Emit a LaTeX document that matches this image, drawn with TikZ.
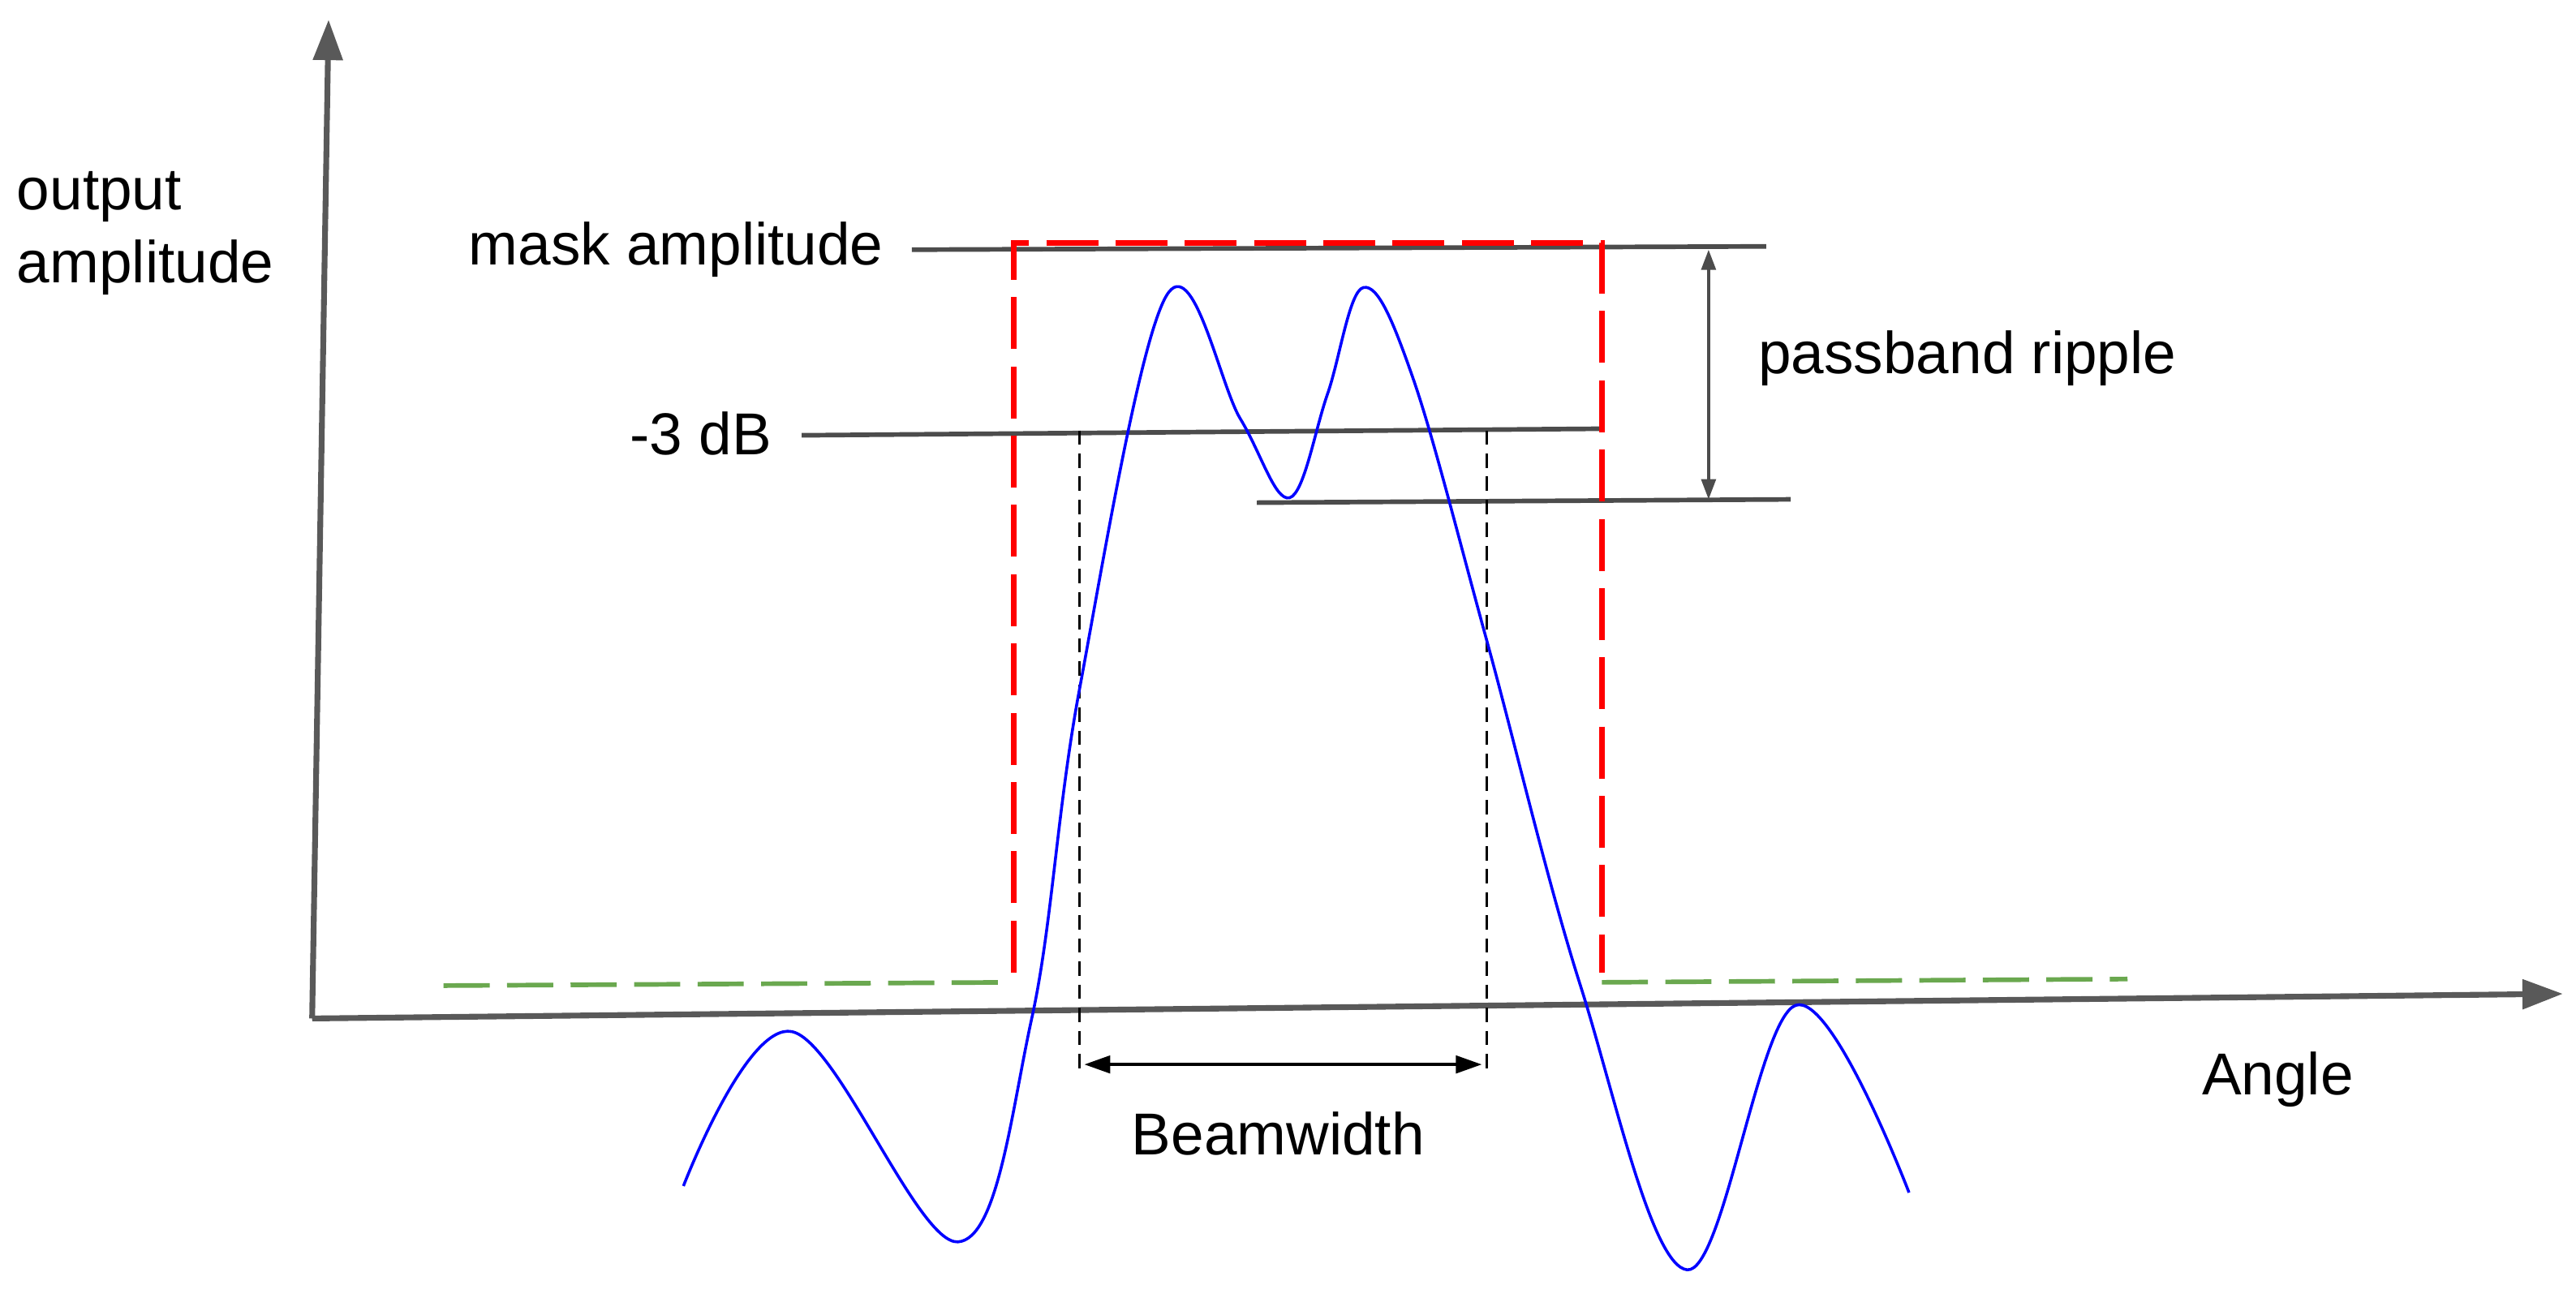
\documentclass[tikz,border=0pt]{standalone}
\usepackage{fontspec}
\setmainfont{Liberation Sans}
\usetikzlibrary{arrows.meta}
\begin{document}
\begin{tikzpicture}[x=0.02cm,y=-0.02cm,
  axis/.style={draw=black!65,line width=2pt,-{Triangle[length=14pt,width=10pt]}},
  lvl/.style={draw=black!70,line width=1.6pt},
  lbl/.style={font=\fontsize{20.5}{24}\selectfont,inner sep=0pt},
  dim/.style={draw=black!70,line width=1pt,{Triangle[length=7pt,width=5pt]}-{Triangle[length=7pt,width=5pt]}}]
\useasboundingbox (0,0) rectangle (1568,790);
% axes
\coordinate (o) at (190,620);
\coordinate (ytop) at (200,12);
\coordinate (xend) at (1560,605);
\draw[axis] (o) -- (ytop);
\draw[axis] (o) -- (xend);
% level lines
\coordinate (m1) at (555,152); \coordinate (m2) at (1075,150);
\coordinate (d1) at (488,265); \coordinate (d2) at (975,261);
\coordinate (r1) at (765,306); \coordinate (r2) at (1090,304);
\draw[lvl] (m1) -- (m2);
\draw[lvl] (d1) -- (d2);
\draw[lvl] (r1) -- (r2);
\coordinate (pa) at (1040,152); \coordinate (pb) at (1040,304);
\draw[dim] (pa) -- (pb);
% beamwidth
\coordinate (b1t) at (657,262); \coordinate (b1b) at (657,652);
\coordinate (b2t) at (905,262); \coordinate (b2b) at (905,652);
\draw[black,line width=0.8pt,dash pattern=on 5pt off 3pt] (b1t) -- (b1b);
\draw[black,line width=0.8pt,dash pattern=on 5pt off 3pt] (b2t) -- (b2b);
\coordinate (ba) at (660,648); \coordinate (bb) at (902,648);
\draw[draw=black,line width=1.2pt,{Triangle[length=9pt,width=6pt]}-{Triangle[length=9pt,width=6pt]}] (ba) -- (bb);
% green
\definecolor{gdash}{RGB}{106,168,79}
\draw[gdash,line width=1.6pt,dash pattern=on 16pt off 6pt] (270,600) -- (617,598);
\draw[gdash,line width=1.6pt,dash pattern=on 16pt off 6pt] (975,598) -- (1295,596);
% red mask
\draw[red,line width=2pt,dash pattern=on 18pt off 6pt] (617,592) -- (617,148) -- (975,148) -- (975,592);
% blue curve
\draw[blue,line width=1pt] plot[smooth,tension=0.6] coordinates {(416,722) (482,628) (583,756) (628,620) (657,420) (710,180) (755,255) (785,303) (808,240) (830,175) (860,230) (905,390) (962,600) (1027,773) (1093,612) (1162,726)};
% labels
\node[lbl,align=left,anchor=west] (ya) at (10,120) {output};
\node[lbl,align=left,anchor=west] (yb) at (10,163) {amplitude};
\node[lbl,anchor=east] (ml) at (538,152) {mask amplitude};
\node[lbl,anchor=east] (dl) at (470,264) {-3 dB};
\node[lbl,anchor=west] (pl) at (1070,218) {passband ripple};
\node[lbl,anchor=west] (al) at (1340,657) {Angle};
\node[lbl] (bw) at (778,690) {Beamwidth};
\end{tikzpicture}
\end{document}
